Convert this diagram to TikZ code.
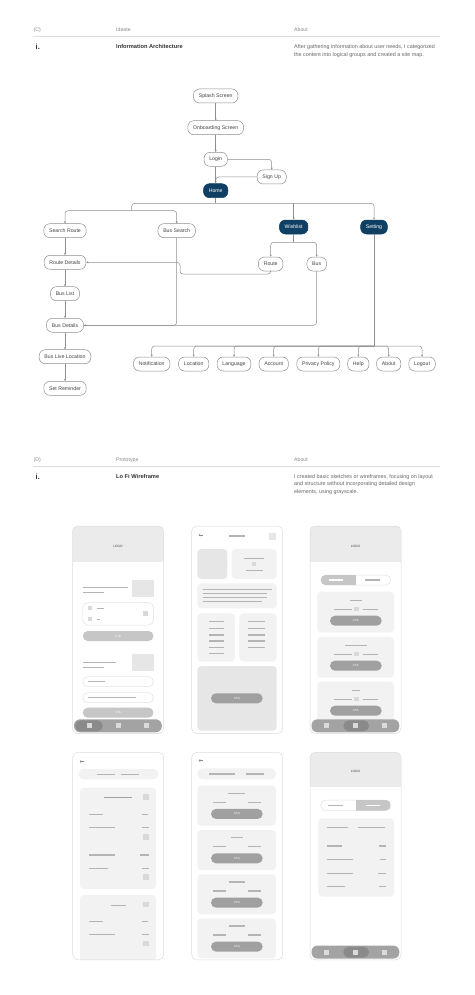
\documentclass[tikz,border=0pt]{standalone}
\usepackage{fontspec}
\setmainfont{Liberation Sans}
\usetikzlibrary{arrows.meta}
\definecolor{navy}{HTML}{0F3F63}
\definecolor{nodeb}{HTML}{8E8E8E}
\definecolor{connc}{HTML}{8E8E8E}
\definecolor{ntext}{HTML}{444444}
\definecolor{hgray}{HTML}{8A8A8A}
\definecolor{tdark}{HTML}{333333}
\definecolor{pgray}{HTML}{666666}
\definecolor{sepc}{HTML}{DDDDDD}
\definecolor{phb}{HTML}{DCDCDC}
\definecolor{hdrg}{HTML}{EBEBEB}
\definecolor{cardg}{HTML}{F2F2F2}
\definecolor{sqg}{HTML}{E6E6E6}
\definecolor{sqg2}{HTML}{D9D9D9}
\definecolor{lineg}{HTML}{B4B4B4}
\definecolor{ctalc}{HTML}{C6C6C6}
\definecolor{ctadc}{HTML}{A0A0A0}
\definecolor{navg}{HTML}{A3A3A3}
\definecolor{navh}{HTML}{8A8A8A}
\definecolor{navi}{HTML}{DADADA}
\definecolor{ocb}{HTML}{E2E2E2}
\tikzset{
  box/.style={draw=nodeb, fill=white, line width=0.5pt, rounded corners=6pt, minimum height=14pt, inner xsep=5.3pt, inner ysep=0pt, font=\fontsize{5.2}{6}\selectfont, text=ntext},
  dbox/.style={box, draw=navy, fill=navy, text=white},
  conn/.style={draw=connc, line width=0.5pt, rounded corners=3pt},
  arr/.style={-{Stealth[length=2.2pt,width=2pt]}},
  hdr/.style={font=\fontsize{5.2}{6}\selectfont, text=hgray, inner sep=0pt, anchor=base west},
  num/.style={font=\fontsize{7.5}{8}\selectfont\bfseries, text=tdark, inner sep=0pt, anchor=base west},
  ttl/.style={font=\fontsize{5.7}{6}\selectfont\bfseries, text=tdark, inner sep=0pt, anchor=base west},
  para/.style={font=\fontsize{5.4}{6}\selectfont, text=pgray, inner sep=0pt, anchor=base west},
  sepl/.style={draw=sepc, line width=0.5pt},
  phoneb/.style={draw=phb, line width=0.5pt, rounded corners=5pt},
  phonef/.style={fill=white, rounded corners=5pt},
  wl/.style={draw=lineg, line width=1.2pt},
  card/.style={fill=cardg, rounded corners=4pt},
  ocard/.style={draw=ocb, fill=white, line width=0.5pt, rounded corners=5pt},
  ctal/.style={fill=ctalc, rounded corners=5pt},
  ctad/.style={fill=ctadc, rounded corners=5pt},
  ctat/.style={font=\fontsize{3}{3}\selectfont, text=white, inner sep=0pt},
  logot/.style={font=\fontsize{3.2}{3}\selectfont, text=ntext, inner sep=0pt},
  backar/.style={draw=hgray, line width=0.5pt, -{Straight Barb[length=1.2pt,width=2.6pt]}},
  togb/.style={draw=ocb, fill=white, line width=0.5pt, rounded corners=5pt},
  togf/.style={fill=ctalc},
}
\newcommand\WL[3]{\draw[wl] (#1,#3) -- (#2,#3);}
\newcommand\WSq[4]{\fill[sqg2] (#1,#2) rectangle (#3,#4);}
\newcommand\PhBase{\fill[phonef] (0,0) rectangle (91,207.5);}
\newcommand\PhTop[1]{\begin{scope}\clip[rounded corners=5pt] (0,0) rectangle (91,207.5);\fill[hdrg] (0,0) rectangle (91,#1);\end{scope}}
\newcommand\PhEdge{\draw[phoneb] (0,0) rectangle (91,207.5);}
\newcommand\PhNav[3]{%
  \fill[navg, rounded corners=6pt] (1.5,193.3) rectangle (89.3,206.3);
  \fill[navh, rounded corners=5.5pt] (#2,194.3) rectangle (#3,205.3);
  \fill[navi] (14.3,197.3) rectangle (19.3,202.3);
  \fill[navi] (43.3,197.3) rectangle (48.3,202.3);
  \fill[navi] (71.5,197.3) rectangle (76.5,202.3);}
\begin{document}
\begin{tikzpicture}[x=1pt,y=-1pt]
\useasboundingbox (0,0) rectangle (474,995);
\fill[white] (0,0) rectangle (474,995);

% ---------- header C
\node[hdr] (hc1) at (33.5,31.8) {(C)};
\node[hdr] (hc2) at (116,31.8) {Ideate};
\node[hdr] (hc3) at (294,31.8) {About};
\draw[sepl] (33,36.7) -- (440,36.7);
\node[num] (hc4) at (35.5,49.8) {i.};
\node[ttl] (hc5) at (116,49) {Information Architecture};
\node[para] (hc6) at (294,48.8) {After gathering information about user needs, I categorized};
\node[para] (hc7) at (294,56.4) {the content into logical groups and created a site map.};

% ---------- flowchart
\node[box] (splash) at (215.7,96) {Splash Screen};
\node[box] (onb) at (215.7,127.7) {Onboarding Screen};
\node[box] (login) at (215.7,159.3) {Login};
\node[box] (signup) at (271.7,177) {Sign Up};
\node[dbox] (home) at (215.7,190.7) {Home};
\node[box] (sroute) at (65,230.7) {Search Route};
\node[box] (bsearch) at (176.7,230.7) {Bus Search};
\node[dbox] (wish) at (293.7,227) {Wishlist};
\node[dbox] (sett) at (374,227) {Setting};
\node[box] (rdet) at (65,262.3) {Route Details};
\node[box] (blist) at (65,293.7) {Bus List};
\node[box] (bdet) at (65,325.3) {Bus Details};
\node[box] (blive) at (65,356.7) {Bus Live Location};
\node[box] (srem) at (65,388.3) {Set Reminder};
\node[box] (wroute) at (270.7,264) {Route};
\node[box] (wbus) at (316.7,264) {Bus};
\node[box] (notif) at (151.7,364) {Notification};
\node[box] (loc) at (193.7,364) {Location};
\node[box] (lang) at (234,364) {Language};
\node[box] (acc) at (273.7,364) {Account};
\node[box] (priv) at (318.3,364) {Privacy Policy};
\node[box] (help) at (358.3,364) {Help};
\node[box] (about) at (388.7,364) {About};
\node[box] (logout) at (422,364) {Logout};

\coordinate (hb) at (215.7,203.3);
\coordinate (hl) at (131.7,210.7);
\coordinate (wb) at (293.7,242.3);
\coordinate (rr) at (180,274);
\coordinate (sb) at (374,346);

\draw[conn,arr] (splash) -- (onb);
\draw[conn,arr] (onb) -- (login);
\draw[conn,arr] (login.east) -| (signup.north);
\draw[conn] (signup.west) -| (home.north);
\draw[conn,arr] (login) -- (home);
\draw[conn] (home.south) -- (hb);
\draw[conn] (hb) -| (hl);
\draw[conn,arr] (hb) -| (sett.north);
\draw[conn,arr] (wish.north |- hb) -- (wish.north);
\draw[conn,arr] (hl) -| (sroute.north);
\draw[conn,arr] (hl) -| (bsearch.north);
\draw[conn,arr] (sroute) -- (rdet);
\draw[conn,arr] (rdet) -- (blist);
\draw[conn,arr] (blist) -- (bdet);
\draw[conn,arr] (bdet) -- (blive);
\draw[conn,arr] (blive) -- (srem);
\draw[conn] (wish.south) -- (wb);
\draw[conn,arr] (wb) -| (wroute.north);
\draw[conn,arr] (wb) -| (wbus.north);
\draw[conn,arr] (wroute.south) |- (rr) |- (rdet.east);
\draw[conn] (bsearch.south) |- (bdet.east);
\draw[conn,arr] (wbus.south) |- (bdet.east);
\draw[conn] (sett.south) -- (sb);
\foreach \n in {notif,loc,lang,acc,priv,help,about,logout}{
  \draw[conn,arr] (sb) -| (\n.north);
}

% ---------- header D
\node[hdr] (hd1) at (33.5,461.8) {(D)};
\node[hdr] (hd2) at (116,461.8) {Prototype};
\node[hdr] (hd3) at (294,461.8) {About};
\draw[sepl] (33,466.3) -- (440,466.3);
\node[num] (hd4) at (35.5,479.5) {i.};
\node[ttl] (hd5) at (116,478.7) {Lo Fi Wireframe};
\node[para] (hd6) at (294,478.5) {I created basic sketches or wireframes, focusing on layout};
\node[para] (hd7) at (294,485.9) {and structure without incorporating detailed design};
\node[para] (hd8) at (294,493.3) {elements, using grayscale.};

% ---------- phone 1
\begin{scope}[shift={(72.5,526)}]
\PhBase \PhTop{35.7}
\node[logot] (logoa) at (45.5,20) {LOGO};
\fill[sqg] (59.7,54) rectangle (81,70.7);
\WL{10.3}{55.3}{61.7} \WL{10.3}{31}{66.7}
\draw[ocard] (10.3,76.7) rectangle (81,99);
\WSq{15}{80}{19.3}{84.3} \WSq{15}{90.7}{19.3}{95} \WSq{70.3}{85}{75}{89.7}
\WL{24.3}{31}{82.3} \WL{24.3}{27}{93.3}
\fill[ctal] (10.3,105) rectangle (81,115); \node[ctat] (ctaa) at (45.6,110) {CTA};
\WL{10.3}{43.7}{136.7} \WL{10.3}{31}{141.7}
\fill[sqg] (59.7,128) rectangle (81,145);
\draw[ocard] (10.3,150.7) rectangle (81,160.7); \WL{15}{32.7}{155.7}
\draw[ocard] (10.3,166.7) rectangle (81,176.7); \WL{15}{63.7}{171.7}
\fill[ctal] (10.3,181.7) rectangle (81,191.7); \node[ctat] (ctab) at (45.6,186.7) {CTA};
\PhNav{}{2.7}{30.3}
\PhEdge
\end{scope}

% ---------- phone 2
\begin{scope}[shift={(191.7,526)}]
\PhBase
\draw[backar] (11.5,9) -- (7,9);
\WL{37.7}{53.3}{10}
\fill[sqg] (77.7,7) rectangle (84.3,13.5);
\fill[sqg, rounded corners=4pt] (5.7,23) rectangle (35.7,53);
\fill[card] (40,23) rectangle (85,53);
\WL{52.3}{72.3}{32.3} \WSq{60}{35.7}{64.3}{40} \WL{54.3}{71}{44.7}
\fill[card] (5.7,57.3) rectangle (85,82.3);
\WL{11}{80}{63.3} \WL{11}{75}{67.3} \WL{11}{75.7}{71.3} \WL{11}{70}{75.7}
\fill[card] (5.7,87.3) rectangle (43.3,135.7);
\foreach \y in {95.7,102.3,109,115,121.7,127.3}{\WL{17.3}{32.3}{\y}}
\fill[card] (47.7,87.3) rectangle (85,135.7);
\foreach \y in {95.7,102.3,109,115,121.7}{\WL{56.7}{73.3}{\y}}
\fill[sqg, rounded corners=4pt] (5.7,140) rectangle (85,204.7);
\fill[ctad] (19.3,167.3) rectangle (71,177.3); \node[ctat] (ctac) at (45.2,172.3) {CTA};
\PhEdge
\end{scope}

% ---------- phone 3
\begin{scope}[shift={(310,526)}]
\PhBase \PhTop{35.7}
\node[logot] (logob) at (45.5,20) {LOGO};
\draw[togb] (10.7,49) rectangle (80.7,59);
\begin{scope}\clip[rounded corners=5pt] (10.7,49) rectangle (80.7,59); \fill[togf] (10.7,49) rectangle (45.7,59);\end{scope}
\draw[white, line width=1.2pt] (19.3,54) -- (33.3,54);
\WL{55}{70}{54}
\foreach \y/\a/\b [count=\i] in {65.7/40/51.7, 110.7/35/56.7, 155.7/42.3/50}{
  \fill[card] (7.3,\y) rectangle (84,\y+41);
  \WL{\a}{\b}{\y+9}
  \WL{24.3}{41.7}{\y+17.7} \WSq{44.3}{\y+15.7}{48.7}{\y+19.7} \WL{52.7}{68.3}{\y+17.7}
  \fill[ctad] (20,\y+24) rectangle (71.7,\y+34);
  \node[ctat] (ctad\i) at (45.8,\y+29) {CTA};
}
\PhNav{}{33.3}{59}
\PhEdge
\end{scope}

% ---------- phone 4
\begin{scope}[shift={(72.7,752.3)}]
\PhBase
\draw[backar] (11.5,9.3) -- (7,9.3);
\fill[cardg, rounded corners=5pt] (5.7,16.7) rectangle (85.7,27);
\WL{24}{42.3}{22} \WL{48.3}{66.7}{22}
\fill[card] (7.3,35.3) rectangle (83.3,136.7);
\draw[draw=ctadc, line width=1.4pt] (31.3,45.3) -- (59.7,45.3);
\WSq{70.7}{42}{76}{47.3}
\WL{16.7}{30.7}{62} \WL{69}{75.7}{62}
\WL{16.7}{42.3}{75} \WL{69}{76.3}{75}
\WSq{70.7}{82}{76}{87.3}
\WL{16.7}{42.3}{102.7} \WL{67.3}{76}{102.7}
\WL{16.7}{35}{116} \WL{69}{76}{116}
\WSq{70.7}{122}{76}{127.3}
\begin{scope}\clip[rounded corners=5pt] (0,0) rectangle (91,207.5);
\fill[card] (7.3,142.7) rectangle (83.3,212);\end{scope}
\WL{38}{53}{153} \WSq{70.7}{149.3}{76}{154.7}
\WL{16.7}{30.7}{169.3} \WL{69}{75.7}{169.3}
\WL{16.7}{42.3}{182.3} \WL{69}{76.3}{182.3}
\WSq{70.7}{188.7}{76}{194}
\PhEdge
\end{scope}

% ---------- phone 5
\begin{scope}[shift={(191.7,752.3)}]
\PhBase
\draw[backar] (11.5,8.3) -- (7,8.3);
\fill[cardg, rounded corners=5pt] (5.7,16) rectangle (84.3,27);
\WL{17.7}{43.3}{21.7} \WL{54.3}{72.7}{21.7}
\foreach \y/\a/\b [count=\i] in {33.3/36.7/53.3, 77.7/39.3/51, 122/37.3/53.3, 166/37.3/53.3}{
  \fill[card] (5.7,\y) rectangle (84.3,\y+40);
  \WL{\a}{\b}{\y+7.7}
  \WL{21}{34}{\y+16.7} \WL{56.7}{69}{\y+16.7}
  \fill[ctad] (19.3,\y+23.3) rectangle (71,\y+33.3);
  \node[ctat] (ctae\i) at (45.2,\y+28.3) {CTA};
}
\PhEdge
\end{scope}

% ---------- phone 6
\begin{scope}[shift={(310,752.3)}]
\PhBase \PhTop{34.3}
\node[logot] (logoc) at (45.5,19.3) {LOGO};
\draw[togb] (10.7,47.7) rectangle (80.7,58.3);
\begin{scope}\clip[rounded corners=5pt] (10.7,47.7) rectangle (80.7,58.3); \fill[togf] (45.7,47.7) rectangle (80.7,58.3);\end{scope}
\WL{18.3}{33.3}{53}
\draw[white, line width=1.2pt] (56,53) -- (70,53);
\fill[card] (8.3,66) rectangle (84,144.3);
\WL{16.7}{37.7}{75.3} \WL{48.3}{75}{75.3}
\WL{16.7}{31.7}{93.7} \WL{69.3}{76}{93.7}
\WL{16.7}{42.7}{107} \WL{70}{76}{107}
\WL{16.7}{42.7}{121} \WL{68.3}{76}{121}
\WL{16.7}{35}{134.3} \WL{69.3}{76}{134.3}
\PhNav{}{33.3}{59}
\PhEdge
\end{scope}
\end{tikzpicture}
\end{document}
